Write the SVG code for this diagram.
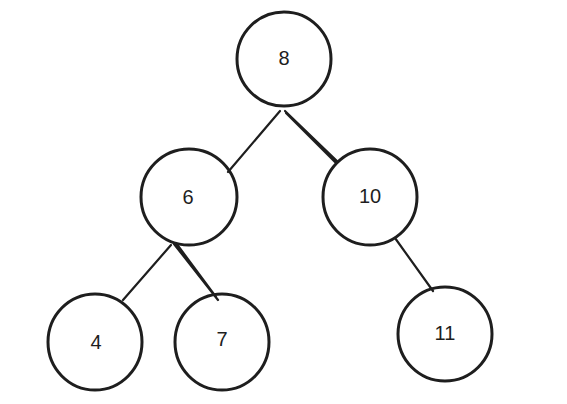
<svg xmlns="http://www.w3.org/2000/svg" width="567" height="404" viewBox="0 0 567 404">
<style>
.n{fill:none;stroke:#1e1e1e;stroke-width:3;stroke-linecap:round}
.c{stroke:#1e1e1e;stroke-width:2.2;stroke-linecap:round;fill:none}
.t{font-family:"Liberation Sans",Arial,sans-serif;font-size:20px;fill:#1e1e1e;text-anchor:middle;dominant-baseline:central}
</style>
<rect width="567" height="404" fill="#fff"/>
<g id="connectors">
<path class="c" d="M280 111 L228 172"/>
<path class="c" d="M285 111 L338 162 M286 113 L336 163"/>
<path class="c" d="M171 245 L123 300"/>
<path class="c" d="M174 244 L218 300 M176 243 L216 297"/>
<path class="c" d="M395 238 L433 291"/>
</g>
<g id="node-8"><ellipse class="n" cx="284" cy="59" rx="47" ry="47"/><text class="t" x="284" y="58">8</text></g>
<g id="node-6"><ellipse class="n" cx="189" cy="197" rx="48" ry="48"/><text class="t" x="188" y="197">6</text></g>
<g id="node-10"><ellipse class="n" cx="370" cy="197" rx="47" ry="48"/><text class="t" x="370" y="196">10</text></g>
<g id="node-4"><ellipse class="n" cx="95" cy="342" rx="47" ry="48"/><text class="t" x="96" y="342">4</text></g>
<g id="node-7"><ellipse class="n" cx="222" cy="342" rx="47" ry="48"/><text class="t" x="222" y="339">7</text></g>
<g id="node-11"><ellipse class="n" cx="445" cy="334" rx="47" ry="47"/><text class="t" x="445" y="333">11</text></g>
</svg>
